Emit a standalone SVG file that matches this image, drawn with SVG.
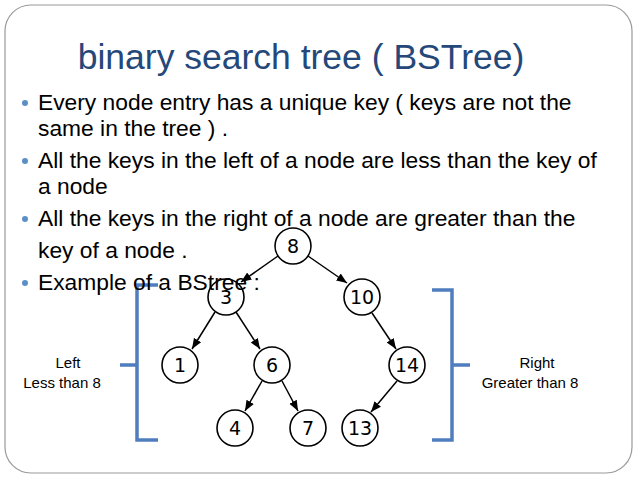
<svg xmlns="http://www.w3.org/2000/svg" width="638" height="478" viewBox="0 0 638 478">
<style>
.b{font-family:"Liberation Sans",Arial,sans-serif;font-size:22.8px;fill:#000}
.n circle{fill:#fff;stroke:#000;stroke-width:1.6}
.n text{font-family:"DejaVu Sans",sans-serif;font-size:19px;text-anchor:middle;fill:#000}
.lab{font-family:"Liberation Sans",Arial,sans-serif;font-size:15px;text-anchor:middle}
.br{fill:none;stroke:#4f7dbd;stroke-width:3.5}
</style>
<defs><marker id="a" viewBox="0 0 10 10" refX="10" refY="5" markerWidth="7" markerHeight="7" orient="auto"><path d="M0,1 L10,5 L0,9 z" fill="#000"/></marker></defs>
<rect x="5" y="5" width="627" height="468" rx="26" fill="#fff" stroke="#999" stroke-width="1.2"/>
<text x="301" y="69" font-family="Liberation Sans,Arial,sans-serif" font-size="35.5" fill="#25487a" text-anchor="middle">binary search tree ( BSTree)</text>
<g fill="#5b8fc7"><circle cx="25" cy="103" r="3"/><circle cx="25" cy="161" r="3"/><circle cx="25" cy="219" r="3"/><circle cx="25" cy="283" r="3"/></g>
<text class="b" x="38" y="110">Every node entry has a unique key ( keys are not the</text>
<text class="b" x="38" y="136">same in the tree ) .</text>
<text class="b" x="38" y="168">All the keys in the left of a node are less than the key of</text>
<text class="b" x="38" y="194">a node</text>
<text class="b" x="38" y="226">All the keys in the right of a node are greater than the</text>
<text class="b" x="38" y="258">key of a node .</text>
<g id="brackets">
<path class="br" d="M158,285 H137 V440 H158 M137,365 H120"/>
<path class="br" d="M432,290 H452 V440 H432 M452,365 H470"/>
</g>
<text class="lab" x="68" y="368">Left</text><text class="lab" x="62" y="388">Less than 8</text>
<text class="lab" x="537" y="368">Right</text><text class="lab" x="530" y="388">Greater than 8</text>
<g id="edges" stroke="#000" stroke-width="1.5" marker-end="url(#a)">
<line x1="278" y1="256" x2="241" y2="282"/>
<line x1="308" y1="256" x2="347" y2="283"/>
<line x1="215" y1="312" x2="192" y2="349"/>
<line x1="236" y1="312" x2="260" y2="349"/>
<line x1="372" y1="313" x2="396" y2="349"/>
<line x1="262" y1="381" x2="245" y2="411"/>
<line x1="282" y1="381" x2="298" y2="411"/>
<line x1="397" y1="381" x2="371" y2="412"/>
</g>
<g id="n8" class="n"><circle cx="293" cy="246" r="18"/><text x="293" y="253">8</text></g>
<g id="n3" class="n"><circle cx="226" cy="297" r="18"/><text x="226" y="304">3</text></g>
<g id="n10" class="n"><circle cx="362" cy="297" r="18"/><text x="362" y="304">10</text></g>
<g id="n1" class="n"><circle cx="180" cy="365" r="18"/><text x="180" y="372">1</text></g>
<g id="n6" class="n"><circle cx="272" cy="365" r="18"/><text x="272" y="372">6</text></g>
<g id="n14" class="n"><circle cx="407" cy="365" r="18"/><text x="407" y="372">14</text></g>
<g id="n4" class="n"><circle cx="235" cy="428" r="18"/><text x="235" y="435">4</text></g>
<g id="n7" class="n"><circle cx="308" cy="428" r="18"/><text x="308" y="435">7</text></g>
<g id="n13" class="n"><circle cx="360" cy="428" r="18"/><text x="360" y="435">13</text></g>
<text class="b" x="38" y="290">Example of a BStree :</text>
</svg>
